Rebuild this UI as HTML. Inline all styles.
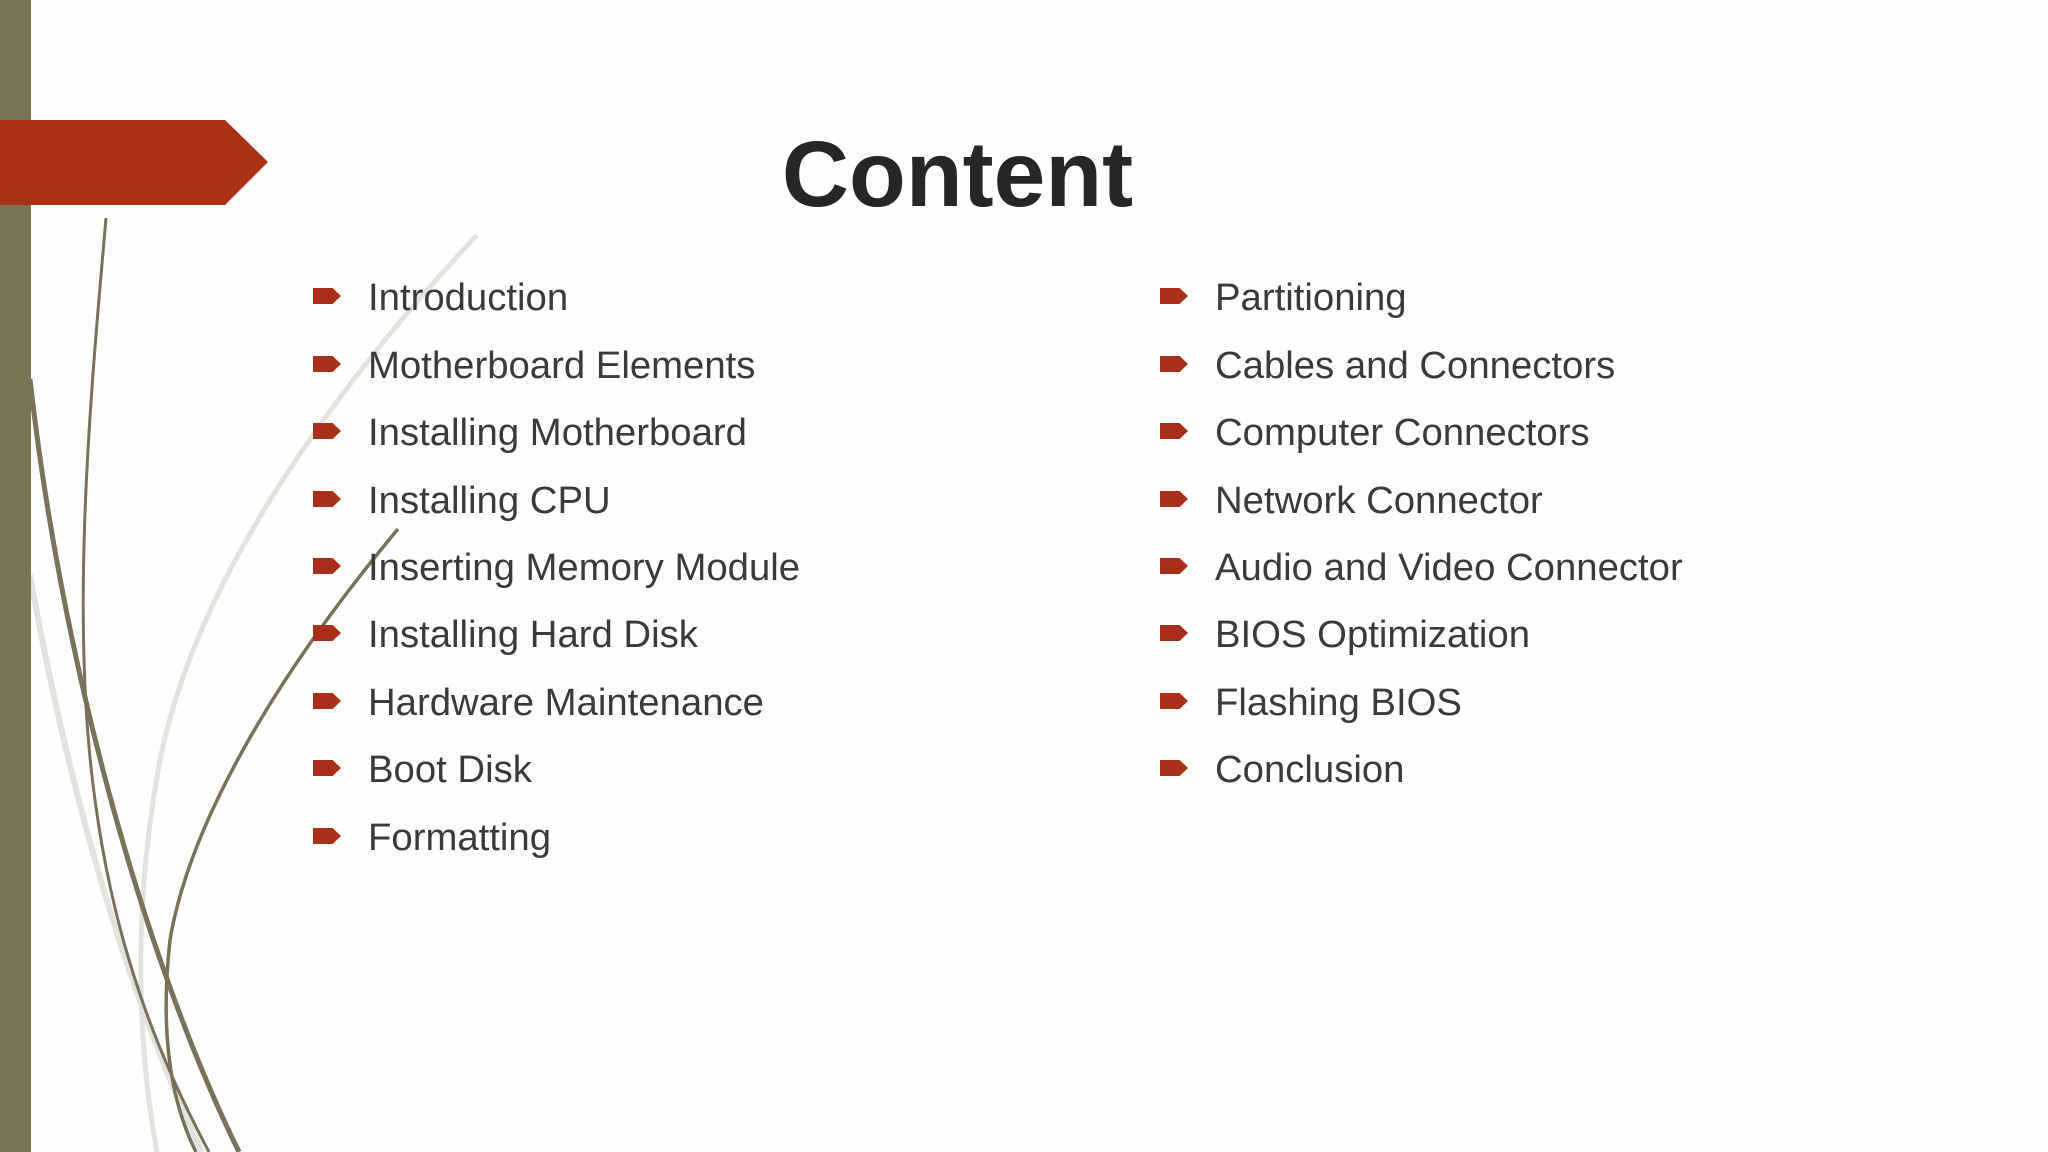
<!DOCTYPE html>
<html><head><meta charset="utf-8"><style>
body{margin:0;width:2048px;height:1152px;background:#fefefc;position:relative;overflow:hidden;font-family:"Liberation Sans",Arial,sans-serif;}
.t{position:absolute;left:0;width:1915px;text-align:center;top:121px;font-size:93px;font-weight:bold;color:#262626;}
.li{position:absolute;font-size:38.3px;color:#3a3a3a;line-height:46px;}
.b{position:absolute;width:28px;height:16px;background:#a8301a;clip-path:polygon(0 0,70% 0,100% 50%,70% 100%,0 100%);}
</style></head><body>
<svg width="2048" height="1152" style="position:absolute;left:0;top:0">
<path d="M477 235 C360 360 200 560 160 760 C130 920 140 1060 157 1152" stroke="#e2e2de" stroke-width="5" fill="none"/>
<path d="M30 575 C70 800 130 1000 202 1152" stroke="#e2e2de" stroke-width="6" fill="none"/>
<path d="M106 218 C90 400 70 620 95 800 C115 950 160 1060 209 1152" stroke="#77725a" stroke-width="3" fill="none"/>
<path d="M30 379 C60 650 140 950 239 1152" stroke="#77725a" stroke-width="5" fill="none"/>
<path d="M398 529 C280 670 190 820 170 940 C160 1030 170 1100 196 1152" stroke="#77725a" stroke-width="3.5" fill="none"/>
<rect x="0" y="0" width="31" height="1152" fill="#797554"/>
<polygon points="0,120 225,120 268,162 225,205 0,205" fill="#a83116"/>
</svg>
<div class="t">Content</div>
<div class="b" style="left:313px;top:288px"></div><div class="li" style="left:368px;top:275px">Introduction</div>
<div class="b" style="left:313px;top:356px"></div><div class="li" style="left:368px;top:343px">Motherboard Elements</div>
<div class="b" style="left:313px;top:423px"></div><div class="li" style="left:368px;top:410px">Installing Motherboard</div>
<div class="b" style="left:313px;top:491px"></div><div class="li" style="left:368px;top:478px">Installing CPU</div>
<div class="b" style="left:313px;top:558px"></div><div class="li" style="left:368px;top:545px">Inserting Memory Module</div>
<div class="b" style="left:313px;top:625px"></div><div class="li" style="left:368px;top:612px">Installing Hard Disk</div>
<div class="b" style="left:313px;top:693px"></div><div class="li" style="left:368px;top:680px">Hardware Maintenance</div>
<div class="b" style="left:313px;top:760px"></div><div class="li" style="left:368px;top:747px">Boot Disk</div>
<div class="b" style="left:313px;top:828px"></div><div class="li" style="left:368px;top:815px">Formatting</div>
<div class="b" style="left:1160px;top:288px"></div><div class="li" style="left:1215px;top:275px">Partitioning</div>
<div class="b" style="left:1160px;top:356px"></div><div class="li" style="left:1215px;top:343px">Cables and Connectors</div>
<div class="b" style="left:1160px;top:423px"></div><div class="li" style="left:1215px;top:410px">Computer Connectors</div>
<div class="b" style="left:1160px;top:491px"></div><div class="li" style="left:1215px;top:478px">Network Connector</div>
<div class="b" style="left:1160px;top:558px"></div><div class="li" style="left:1215px;top:545px">Audio and Video Connector</div>
<div class="b" style="left:1160px;top:625px"></div><div class="li" style="left:1215px;top:612px">BIOS Optimization</div>
<div class="b" style="left:1160px;top:693px"></div><div class="li" style="left:1215px;top:680px">Flashing BIOS</div>
<div class="b" style="left:1160px;top:760px"></div><div class="li" style="left:1215px;top:747px">Conclusion</div>
</body></html>
